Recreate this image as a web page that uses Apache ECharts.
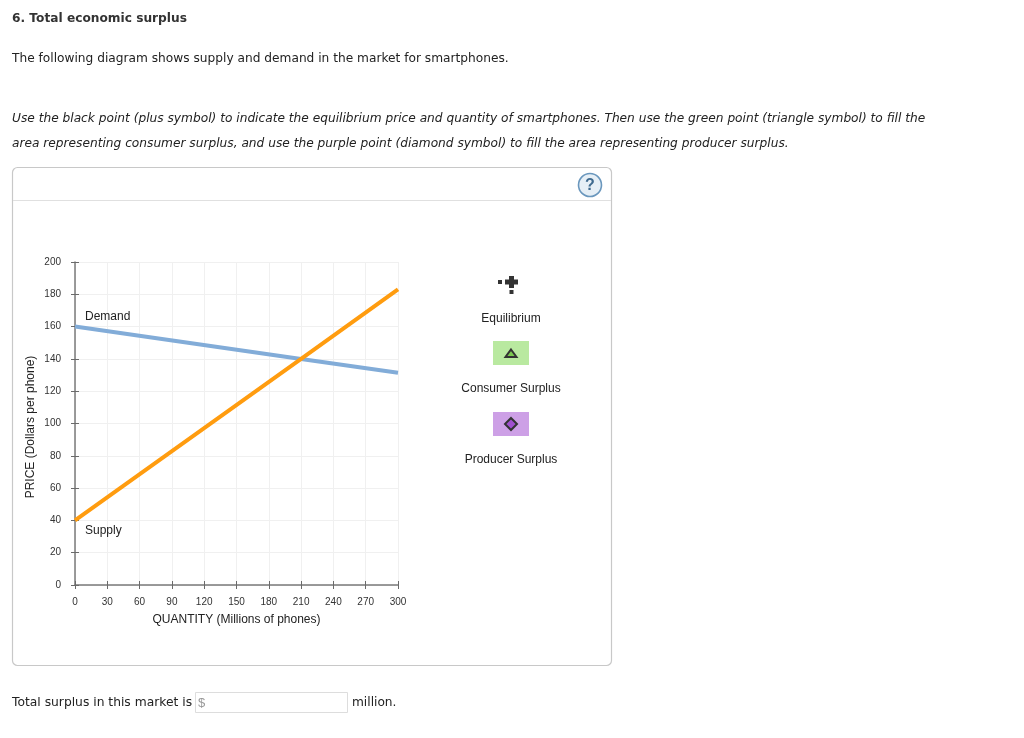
<!DOCTYPE html>
<html><head><meta charset="utf-8">
<style>html,body{margin:0;padding:0;background:#fff}#c{width:1024px;height:738px}</style>
<script src="https://cdn.jsdelivr.net/npm/echarts@6/dist/echarts.min.js"></script>
</head><body><div id="c"></div>
<script>
const quantity = [0, 210, 300];
const demand = [160, 140, 131.4];
const supply = [40, 140, 183];
const legendNames = ['Equilibrium', 'Consumer Surplus', 'Producer Surplus'];

const UI = '"DejaVu Sans"', CH = '"Liberation Sans"';
const txt = (x, y, text, o = {}) => ({
  type: 'text', x, y, silent: true, z: 5,
  style: Object.assign({ text, fill: '#222', font: `12.2px ${UI}`, verticalAlign: 'middle' }, o)
});
const axisLine = { show: true, onZero: false, lineStyle: { color: '#7a7a7a', width: 1.5 } };
const tick = { show: true, length: 4, lineStyle: { color: '#6a6a6a', width: 1 } };
const split = { show: true, lineStyle: { color: '#f0f0f0', width: 1 } };

const chart = echarts.init(document.getElementById('c'), null, { width: 1024, height: 738 });
chart.setOption({
  animation: false,
  backgroundColor: '#fff',
  grid: { left: 75, top: 262, width: 323, height: 323 },
  xAxis: [
    { type: 'value', min: 0, max: 300, interval: 30, position: 'bottom',
      name: 'QUANTITY (Millions of phones)', nameLocation: 'middle', nameGap: 29,
      nameTextStyle: { fontFamily: 'Liberation Sans', fontSize: 12, color: '#222' },
      axisLine, axisTick: tick, splitLine: split,
      axisLabel: { margin: 12, fontFamily: 'Liberation Sans', fontSize: 10, color: '#333', showMinLabel: true, showMaxLabel: true, hideOverlap: false } },
    { type: 'value', min: 0, max: 300, interval: 30, position: 'bottom',
      axisLine: { show: false }, axisTick: Object.assign({}, tick, { inside: true }), axisLabel: { show: false }, splitLine: { show: false } }
  ],
  yAxis: [
    { type: 'value', min: 0, max: 200, interval: 20, position: 'left',
      name: 'PRICE (Dollars per phone)', nameLocation: 'middle', nameGap: 38,
      nameTextStyle: { fontFamily: 'Liberation Sans', fontSize: 12, color: '#222', padding: [0, 7, 0, 0] },
      axisLine, axisTick: tick, splitLine: split,
      axisLabel: { margin: 14, padding: [2, 0, 0, 0], fontFamily: 'Liberation Sans', fontSize: 10, color: '#333', showMinLabel: true, showMaxLabel: true, hideOverlap: false } },
    { type: 'value', min: 0, max: 200, interval: 20, position: 'right', offset: -323,
      axisLine: { show: false, onZero: false }, axisTick: tick, axisLabel: { show: false }, splitLine: { show: false } }
  ],
  series: [
    { name: 'Demand', type: 'line', showSymbol: false, symbol: 'none', z: 3,
      lineStyle: { color: '#82acd8', width: 4 }, data: quantity.map((q, i) => [q, demand[i]]) },
    { name: 'Supply', type: 'line', showSymbol: false, symbol: 'none', z: 4,
      lineStyle: { color: '#ff9c0f', width: 4 }, data: quantity.map((q, i) => [q, supply[i]]) }
  ],
  graphic: { elements: [
    { type: 'rect', z: -1, shape: { x: 12.5, y: 167.5, width: 599, height: 498, r: 5 }, style: { fill: '#fff', stroke: '#c8c8c8', lineWidth: 1.2 } },
    { type: 'line', z: 0, shape: { x1: 13, y1: 200.5, x2: 611, y2: 200.5 }, style: { stroke: '#e0e0e0', lineWidth: 1 } },
    txt(12, 19, '6. Total economic surplus', { font: `bold 12.2px ${UI}`, fill: '#333' }),
    txt(12, 59, 'The following diagram shows supply and demand in the market for smartphones.'),
    txt(12, 119, 'Use the black point (plus symbol) to indicate the equilibrium price and quantity of smartphones. Then use the green point (triangle symbol) to fill the', { font: `italic 12.2px ${UI}` }),
    txt(12, 144, 'area representing consumer surplus, and use the purple point (diamond symbol) to fill the area representing producer surplus.', { font: `italic 12.2px ${UI}` }),
    { type: 'circle', shape: { cx: 590, cy: 185, r: 11.5 }, style: { fill: '#e6eff6', stroke: '#6a97bd', lineWidth: 1.6 } },
    txt(590, 186, '?', { font: `bold 16px ${CH}`, fill: '#3f6a8f', align: 'center' }),
    txt(85, 317, 'Demand', { font: `12px ${CH}` }),
    txt(85, 531, 'Supply', { font: `12px ${CH}` }),

    { type: 'rect', shape: { x: 505, y: 279.5, width: 13, height: 5 }, style: { fill: '#333' } },
    { type: 'rect', shape: { x: 509, y: 276, width: 5, height: 12 }, style: { fill: '#333' } },
    { type: 'rect', shape: { x: 498, y: 280, width: 4, height: 4 }, style: { fill: '#333' } },
    { type: 'rect', shape: { x: 509.5, y: 290, width: 4, height: 4 }, style: { fill: '#333' } },
    txt(511, 318.5, legendNames[0], { font: `12px ${CH}`, align: 'center' }),

    { type: 'rect', shape: { x: 493, y: 341, width: 36, height: 24 }, style: { fill: '#b9e9a0' } },
    { type: 'polygon', shape: { points: [[511, 349.5], [516.5, 357], [505.5, 357]] }, style: { fill: '#7bc950', stroke: '#333', lineWidth: 2 } },
    txt(511, 389, legendNames[1], { font: `12px ${CH}`, align: 'center' }),

    { type: 'rect', shape: { x: 493, y: 412, width: 36, height: 24 }, style: { fill: '#cda0e6' } },
    { type: 'polygon', shape: { points: [[511, 418], [517, 424], [511, 430], [505, 424]] }, style: { fill: '#a050cf', stroke: '#333', lineWidth: 2 } },
    txt(511, 459.5, legendNames[2], { font: `12px ${CH}`, align: 'center' }),

    txt(12, 703, 'Total surplus in this market is', { font: `12.3px ${UI}` }),
    { type: 'rect', shape: { x: 195.5, y: 692.5, width: 152, height: 20 }, style: { fill: '#fff', stroke: '#ddd', lineWidth: 1 } },
    txt(198, 703, '$', { font: `13px ${CH}`, fill: '#999' }),
    txt(352, 703, 'million.')
  ] }
});
</script></body></html>
